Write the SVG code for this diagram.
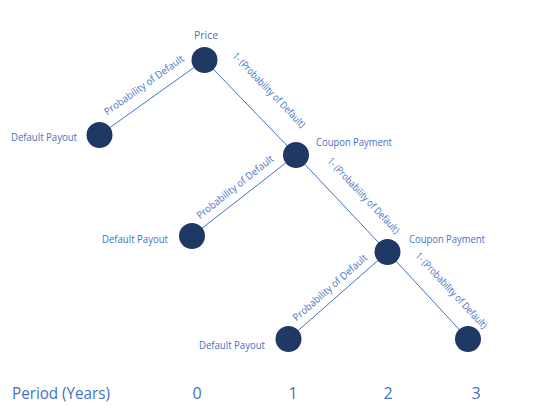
<svg xmlns="http://www.w3.org/2000/svg" width="555" height="416" viewBox="0 0 555 416">
<style>
.node{fill:#203864;}
.edge{stroke:#4472C4;stroke-width:1;fill:none;}
.lbl{font-family:"Open Sans","Liberation Sans",sans-serif;font-size:10.5px;fill:#4472C4;}
.elbl{font-family:"Open Sans","Liberation Sans",sans-serif;font-size:10px;fill:#4472C4;text-anchor:middle;}
.axis{font-family:"Open Sans","Liberation Sans",sans-serif;font-size:16px;fill:#4472C4;}
</style>
<rect width="555" height="416" fill="#ffffff"/>
<g id="connectors">
<line class="edge" x1="99.5" y1="135" x2="204.5" y2="60"/>
<line class="edge" x1="204.5" y1="60" x2="296" y2="155"/>
<line class="edge" x1="192" y1="236" x2="296" y2="155"/>
<line class="edge" x1="296" y1="155" x2="387.5" y2="252"/>
<line class="edge" x1="288.5" y1="339" x2="387.5" y2="252"/>
<line class="edge" x1="387.5" y1="252" x2="468" y2="339"/>
<text class="elbl" transform="translate(144,85) rotate(-35.5)" y="3.5" textLength="95" lengthAdjust="spacingAndGlyphs">Probability of Default</text>
<text class="elbl" transform="translate(269,90) rotate(46.1)" y="3.5" textLength="100" lengthAdjust="spacingAndGlyphs">1- (Probability of Default)</text>
<text class="elbl" transform="translate(235,187) rotate(-38.5)" y="3.5" textLength="95" lengthAdjust="spacingAndGlyphs">Probability of Default</text>
<text class="elbl" transform="translate(363.5,195.5) rotate(46.8)" y="3.5" textLength="100" lengthAdjust="spacingAndGlyphs">1- (Probability of Default)</text>
<text class="elbl" transform="translate(330,287.5) rotate(-41.3)" y="3.5" textLength="95" lengthAdjust="spacingAndGlyphs">Probability of Default</text>
<text class="elbl" transform="translate(451.5,290.5) rotate(47)" y="3.5" textLength="100" lengthAdjust="spacingAndGlyphs">1- (Probability of Default)</text>
</g>
<g id="node-price">
<circle class="node" cx="204.5" cy="60" r="13"/>
<text class="lbl" x="206" y="38.5" text-anchor="middle" textLength="24" lengthAdjust="spacingAndGlyphs">Price</text>
</g>
<g id="node-default1">
<circle class="node" cx="99.5" cy="135" r="13"/>
<text class="lbl" x="11" y="140.5" textLength="66" lengthAdjust="spacingAndGlyphs">Default Payout</text>
</g>
<g id="node-coupon1">
<circle class="node" cx="296" cy="155" r="13"/>
<text class="lbl" x="316" y="146" textLength="76" lengthAdjust="spacingAndGlyphs">Coupon Payment</text>
</g>
<g id="node-default2">
<circle class="node" cx="192" cy="236" r="13"/>
<text class="lbl" x="102" y="242.5" textLength="66" lengthAdjust="spacingAndGlyphs">Default Payout</text>
</g>
<g id="node-coupon2">
<circle class="node" cx="387.5" cy="252" r="13"/>
<text class="lbl" x="409" y="242.5" textLength="76" lengthAdjust="spacingAndGlyphs">Coupon Payment</text>
</g>
<g id="node-default3">
<circle class="node" cx="288.5" cy="339" r="13"/>
<text class="lbl" x="199" y="348.5" textLength="66" lengthAdjust="spacingAndGlyphs">Default Payout</text>
</g>
<g id="node-final">
<circle class="node" cx="468" cy="339" r="13"/>
</g>
<g id="axis">
<text class="axis" x="12" y="398.5" textLength="98" lengthAdjust="spacingAndGlyphs">Period (Years)</text>
<text class="axis" x="197" y="398.5" text-anchor="middle">0</text>
<text class="axis" x="293" y="398.5" text-anchor="middle">1</text>
<text class="axis" x="388" y="398.5" text-anchor="middle">2</text>
<text class="axis" x="476" y="398.5" text-anchor="middle">3</text>
</g>
</svg>
